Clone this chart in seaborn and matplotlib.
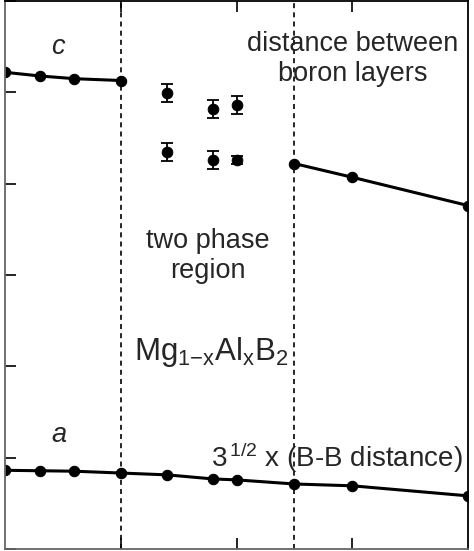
import matplotlib
matplotlib.use("Agg")
import matplotlib.pyplot as plt
import seaborn as sns
import pandas as pd

# Al content x
c_left_x = [0.0, 0.03, 0.06, 0.10]
c_left_y = [5.22, 5.18, 5.15, 5.13]
c_right_x = [0.25, 0.30, 0.40]
c_right_y = [4.22, 4.07, 3.76]

# two phase region points (c, two phases)
tp_x = [0.14, 0.18, 0.20, 0.14, 0.18, 0.20]
tp_y = [4.99, 4.82, 4.86, 4.35, 4.26, 4.26]
tp_err = [0.10, 0.10, 0.10, 0.10, 0.10, 0.04]

a_x = [0.0, 0.03, 0.06, 0.10, 0.14, 0.18, 0.20, 0.25, 0.30, 0.40]
a_y = [0.86, 0.855, 0.85, 0.83, 0.81, 0.765, 0.755, 0.71, 0.69, 0.58]

phase_bounds = [0.10, 0.25]

sns.set_style("white")
plt.rcParams['font.family'] = ['Liberation Sans', 'DejaVu Sans']
plt.rcParams['mathtext.fontset'] = 'custom'
plt.rcParams['mathtext.rm'] = 'Liberation Sans'
plt.rcParams['mathtext.it'] = 'Liberation Sans'

fig = plt.figure(figsize=(4.74, 5.51), dpi=100)
ax = fig.add_axes([0.0105, 0.004, 0.977, 0.994])

line_kw = dict(color='black', linewidth=2.2, marker='o', markersize=7.5,
               markeredgecolor='black', legend=False)
sns.lineplot(x=c_left_x, y=c_left_y, ax=ax, **line_kw)
sns.lineplot(x=c_right_x, y=c_right_y, ax=ax, **line_kw)
sns.lineplot(x=a_x, y=a_y, ax=ax, sort=False, **line_kw)

tp = pd.DataFrame({'x': tp_x, 'y': tp_y, 'err': tp_err})
ax.errorbar(tp['x'], tp['y'], yerr=tp['err'], fmt='none', ecolor='black',
            elinewidth=1.3, capsize=4.5, capthick=1.3)
sns.scatterplot(data=tp, x='x', y='y', ax=ax, color='black', s=60,
                edgecolor='black', legend=False, zorder=3)

for xb in phase_bounds:
    ax.axvline(xb, color='black', linewidth=1.2, linestyle=(0, (3, 2.5)), zorder=1)

ax.set_xlim(0, 0.4)
ax.set_ylim(0, 6)
ax.set_xticks([0.1, 0.2, 0.3])
ax.set_yticks([0, 1, 2, 3, 4, 5, 6])
ax.set_xticklabels([])
ax.set_yticklabels([])
ax.set_xlabel('')
ax.set_ylabel('')
ax.tick_params(direction='in', length=8, width=1.2, color='black',
               top=True, bottom=True, left=True, right=False)

for side in ['top', 'right']:
    ax.spines[side].set_color('black')
    ax.spines[side].set_linewidth(1.3)
for side in ['left', 'bottom']:
    ax.spines[side].set_color('#666666')
    ax.spines[side].set_linewidth(1.3)

fs = 19.5
ax.text(0.046, 5.5, 'c', fontsize=fs, style='italic', ha='center', va='center')
ax.text(0.047, 1.25, 'a', fontsize=fs, style='italic', ha='center', va='center')
ax.text(0.3, 5.37, 'distance between\nboron layers', fontsize=fs,
        ha='center', va='center', linespacing=1.2)
ax.text(0.175, 3.21, 'two phase\nregion', fontsize=fs, ha='center', va='center',
        linespacing=1.2)
ax.text(0.178, 2.16, r'Mg$_{1\mathrm{-}x}$Al$_x$B$_2$', fontsize=22.5,
        ha='center', va='center')
ax.text(0.287, 1.0, r'3$^{\,1/2}$ x (B-B distance)', fontsize=20,
        ha='center', va='center')

fig.savefig('out.png', dpi=100)
